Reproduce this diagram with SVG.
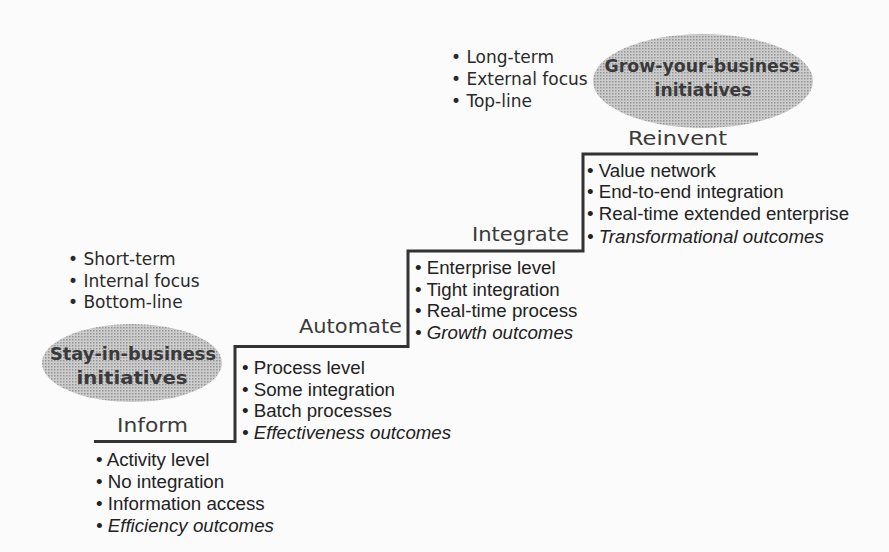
<svg xmlns="http://www.w3.org/2000/svg" width="889" height="552" viewBox="0 0 889 552">
<defs>
<pattern id="dots" width="3" height="3" patternUnits="userSpaceOnUse">
<rect width="3" height="3" fill="#cdcdcd"/>
<rect x="0" y="0" width="1.5" height="1.5" fill="#949494"/>
</pattern>
</defs>
<style>
.step{fill:none;stroke:#333;stroke-width:3}
.lbl{font-family:"DejaVu Sans",sans-serif;font-size:20px;fill:#3a3a3a}
.ell{fill:url(#dots)}
.et{font-family:"DejaVu Sans",sans-serif;font-weight:bold;font-size:17px;fill:#3a3a3a;text-anchor:middle}
.b{font-family:"Liberation Sans",Arial,sans-serif;font-size:18.7px;fill:#222}
.i{font-style:italic}
.t{font-family:"DejaVu Sans",sans-serif;font-size:17px;fill:#2a2a2a}
</style>
<rect width="889" height="552" fill="#fbfbfb"/>
<g id="connectors">
<path class="step" d="M94 441.5 H235 V346.5 H408 V251 H583 V154 H758"/>
</g>
<g id="stay">
<ellipse class="ell" cx="132" cy="363" rx="90" ry="39"/>
<text class="et" x="133" y="360" textLength="166" lengthAdjust="spacingAndGlyphs">Stay-in-business</text>
<text class="et" x="132" y="384" textLength="111" lengthAdjust="spacingAndGlyphs">initiatives</text>
</g>
<g id="grow">
<ellipse class="ell" cx="703" cy="81" rx="110" ry="47"/>
<text class="et" x="702" y="72" textLength="195" lengthAdjust="spacingAndGlyphs">Grow-your-business</text>
<text class="et" x="703" y="96" textLength="97" lengthAdjust="spacingAndGlyphs">initiatives</text>
</g>
<g id="short-term">
<text class="t" x="68" y="265">• Short-term</text>
<text class="t" x="68" y="287">• Internal focus</text>
<text class="t" x="68" y="308">• Bottom-line</text>
</g>
<g id="long-term">
<text class="t" x="451" y="63">• Long-term</text>
<text class="t" x="451" y="85">• External focus</text>
<text class="t" x="451" y="107">• Top-line</text>
</g>
<g id="inform">
<text class="lbl" x="117" y="432" textLength="71" lengthAdjust="spacingAndGlyphs">Inform</text>
<text class="b" x="96" y="466">• Activity level</text>
<text class="b" x="96" y="488">• No integration</text>
<text class="b" x="96" y="510">• Information access</text>
<text class="b i" x="96" y="532">• Efficiency outcomes</text>
</g>
<g id="automate">
<text class="lbl" x="299" y="333" textLength="103" lengthAdjust="spacingAndGlyphs">Automate</text>
<text class="b" x="242" y="374">• Process level</text>
<text class="b" x="242" y="396">• Some integration</text>
<text class="b" x="242" y="417">• Batch processes</text>
<text class="b i" x="242" y="439">• Effectiveness outcomes</text>
</g>
<g id="integrate">
<text class="lbl" x="472" y="241" textLength="97" lengthAdjust="spacingAndGlyphs">Integrate</text>
<text class="b" x="415" y="274">• Enterprise level</text>
<text class="b" x="415" y="296">• Tight integration</text>
<text class="b" x="415" y="317">• Real-time process</text>
<text class="b i" x="415" y="339">• Growth outcomes</text>
</g>
<g id="reinvent">
<text class="lbl" x="628" y="145" textLength="99" lengthAdjust="spacingAndGlyphs">Reinvent</text>
<text class="b" x="587" y="177">• Value network</text>
<text class="b" x="587" y="198">• End-to-end integration</text>
<text class="b" x="587" y="220">• Real-time extended enterprise</text>
<text class="b i" x="587" y="243">• Transformational outcomes</text>
</g>
</svg>
